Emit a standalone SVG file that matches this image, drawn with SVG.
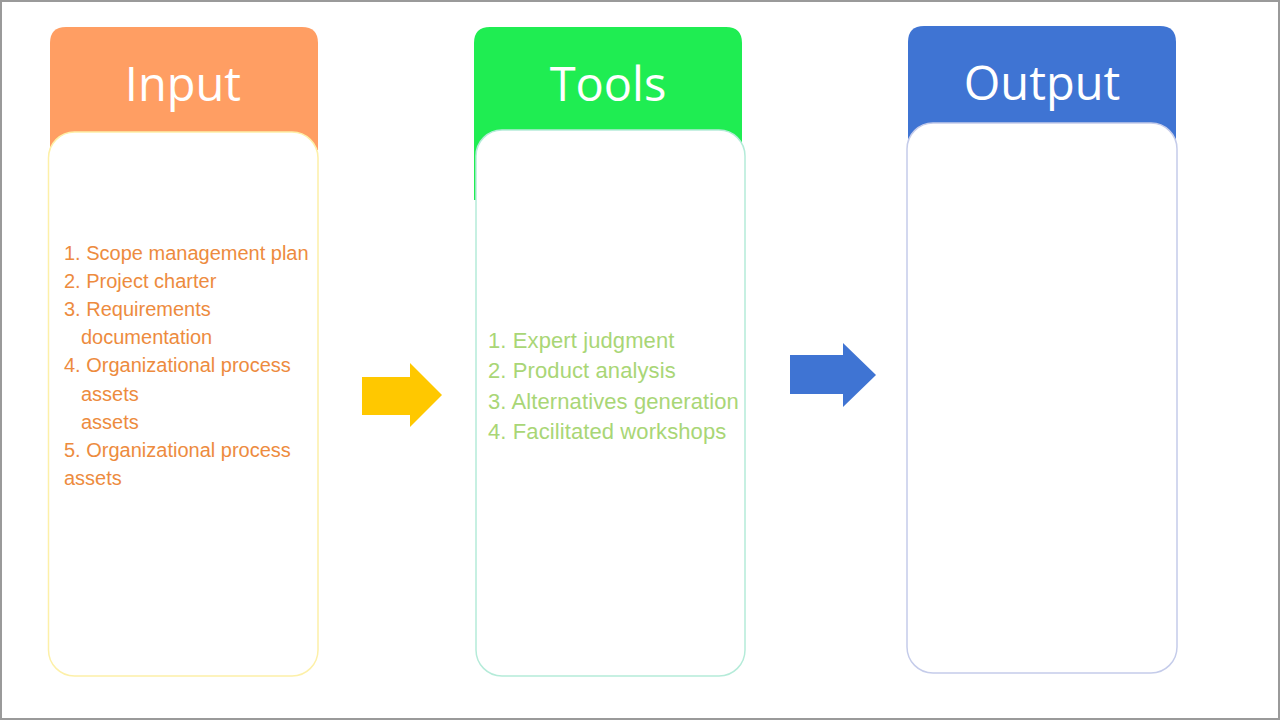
<svg xmlns="http://www.w3.org/2000/svg" width="1280" height="720" viewBox="0 0 1280 720">
<style>
.hdr{font-family:"Open Sans","Noto Sans",sans-serif;font-size:47px;fill:#ffffff;text-anchor:middle}
.body{fill:#ffffff;stroke-width:1.5}
.in{font-family:"Liberation Sans",Arial,sans-serif;font-size:20px;fill:#ED8B3E}
.tl{font-family:"Liberation Sans",Arial,sans-serif;font-size:22px;fill:#A9D676;letter-spacing:0.1px}
</style>
<rect x="0" y="0" width="1280" height="720" fill="#ffffff"/>
<rect x="1" y="1" width="1278" height="718" fill="none" stroke="#9a9a9a" stroke-width="2"/>
<g id="input">
<path d="M50,150 V43 Q50,27 66,27 H302 Q318,27 318,43 V150 Z" fill="#FF9E63"/>
<rect class="body" x="48.5" y="132" width="269.5" height="544" rx="26" stroke="#FDF0A8"/>
<text class="hdr" x="183" y="101">Input</text>
<text class="in" x="64" y="260">1. Scope management plan</text>
<text class="in" x="64" y="288">2. Project charter</text>
<text class="in" x="64" y="316">3. Requirements</text>
<text class="in" x="81" y="344">documentation</text>
<text class="in" x="64" y="372">4. Organizational process</text>
<text class="in" x="81" y="401">assets</text>
<text class="in" x="81" y="429">assets</text>
<text class="in" x="64" y="457">5. Organizational process</text>
<text class="in" x="64" y="485">assets</text>
</g>
<g id="tools">
<path d="M474,200 V43 Q474,27 490,27 H726 Q742,27 742,43 V150 H478 V200 Z" fill="#1FED52"/>
<rect class="body" x="476" y="130" width="269" height="546" rx="26" stroke="#B5EBD9"/>
<text class="hdr" x="608" y="101">Tools</text>
<text class="tl" x="488" y="348">1. Expert judgment</text>
<text class="tl" x="488" y="378">2. Product analysis</text>
<text class="tl" x="488" y="409">3. Alternatives generation</text>
<text class="tl" x="488" y="439">4. Facilitated workshops</text>
</g>
<g id="output">
<path d="M908,140 V42 Q908,26 924,26 H1160 Q1176,26 1176,42 V140 Z" fill="#3F74D3"/>
<rect class="body" x="907" y="123" width="270" height="550" rx="26" stroke="#C5CCEA"/>
<text class="hdr" x="1042" y="100">Output</text>
</g>
<g id="connectors">
<polygon points="362,377 410,377 410,363 442,395 410,427 410,415 362,415" fill="#FFC800"/>
<polygon points="790,355 843,355 843,343 876,375 843,407 843,394 790,394" fill="#3F74D3"/>
</g>
</svg>
